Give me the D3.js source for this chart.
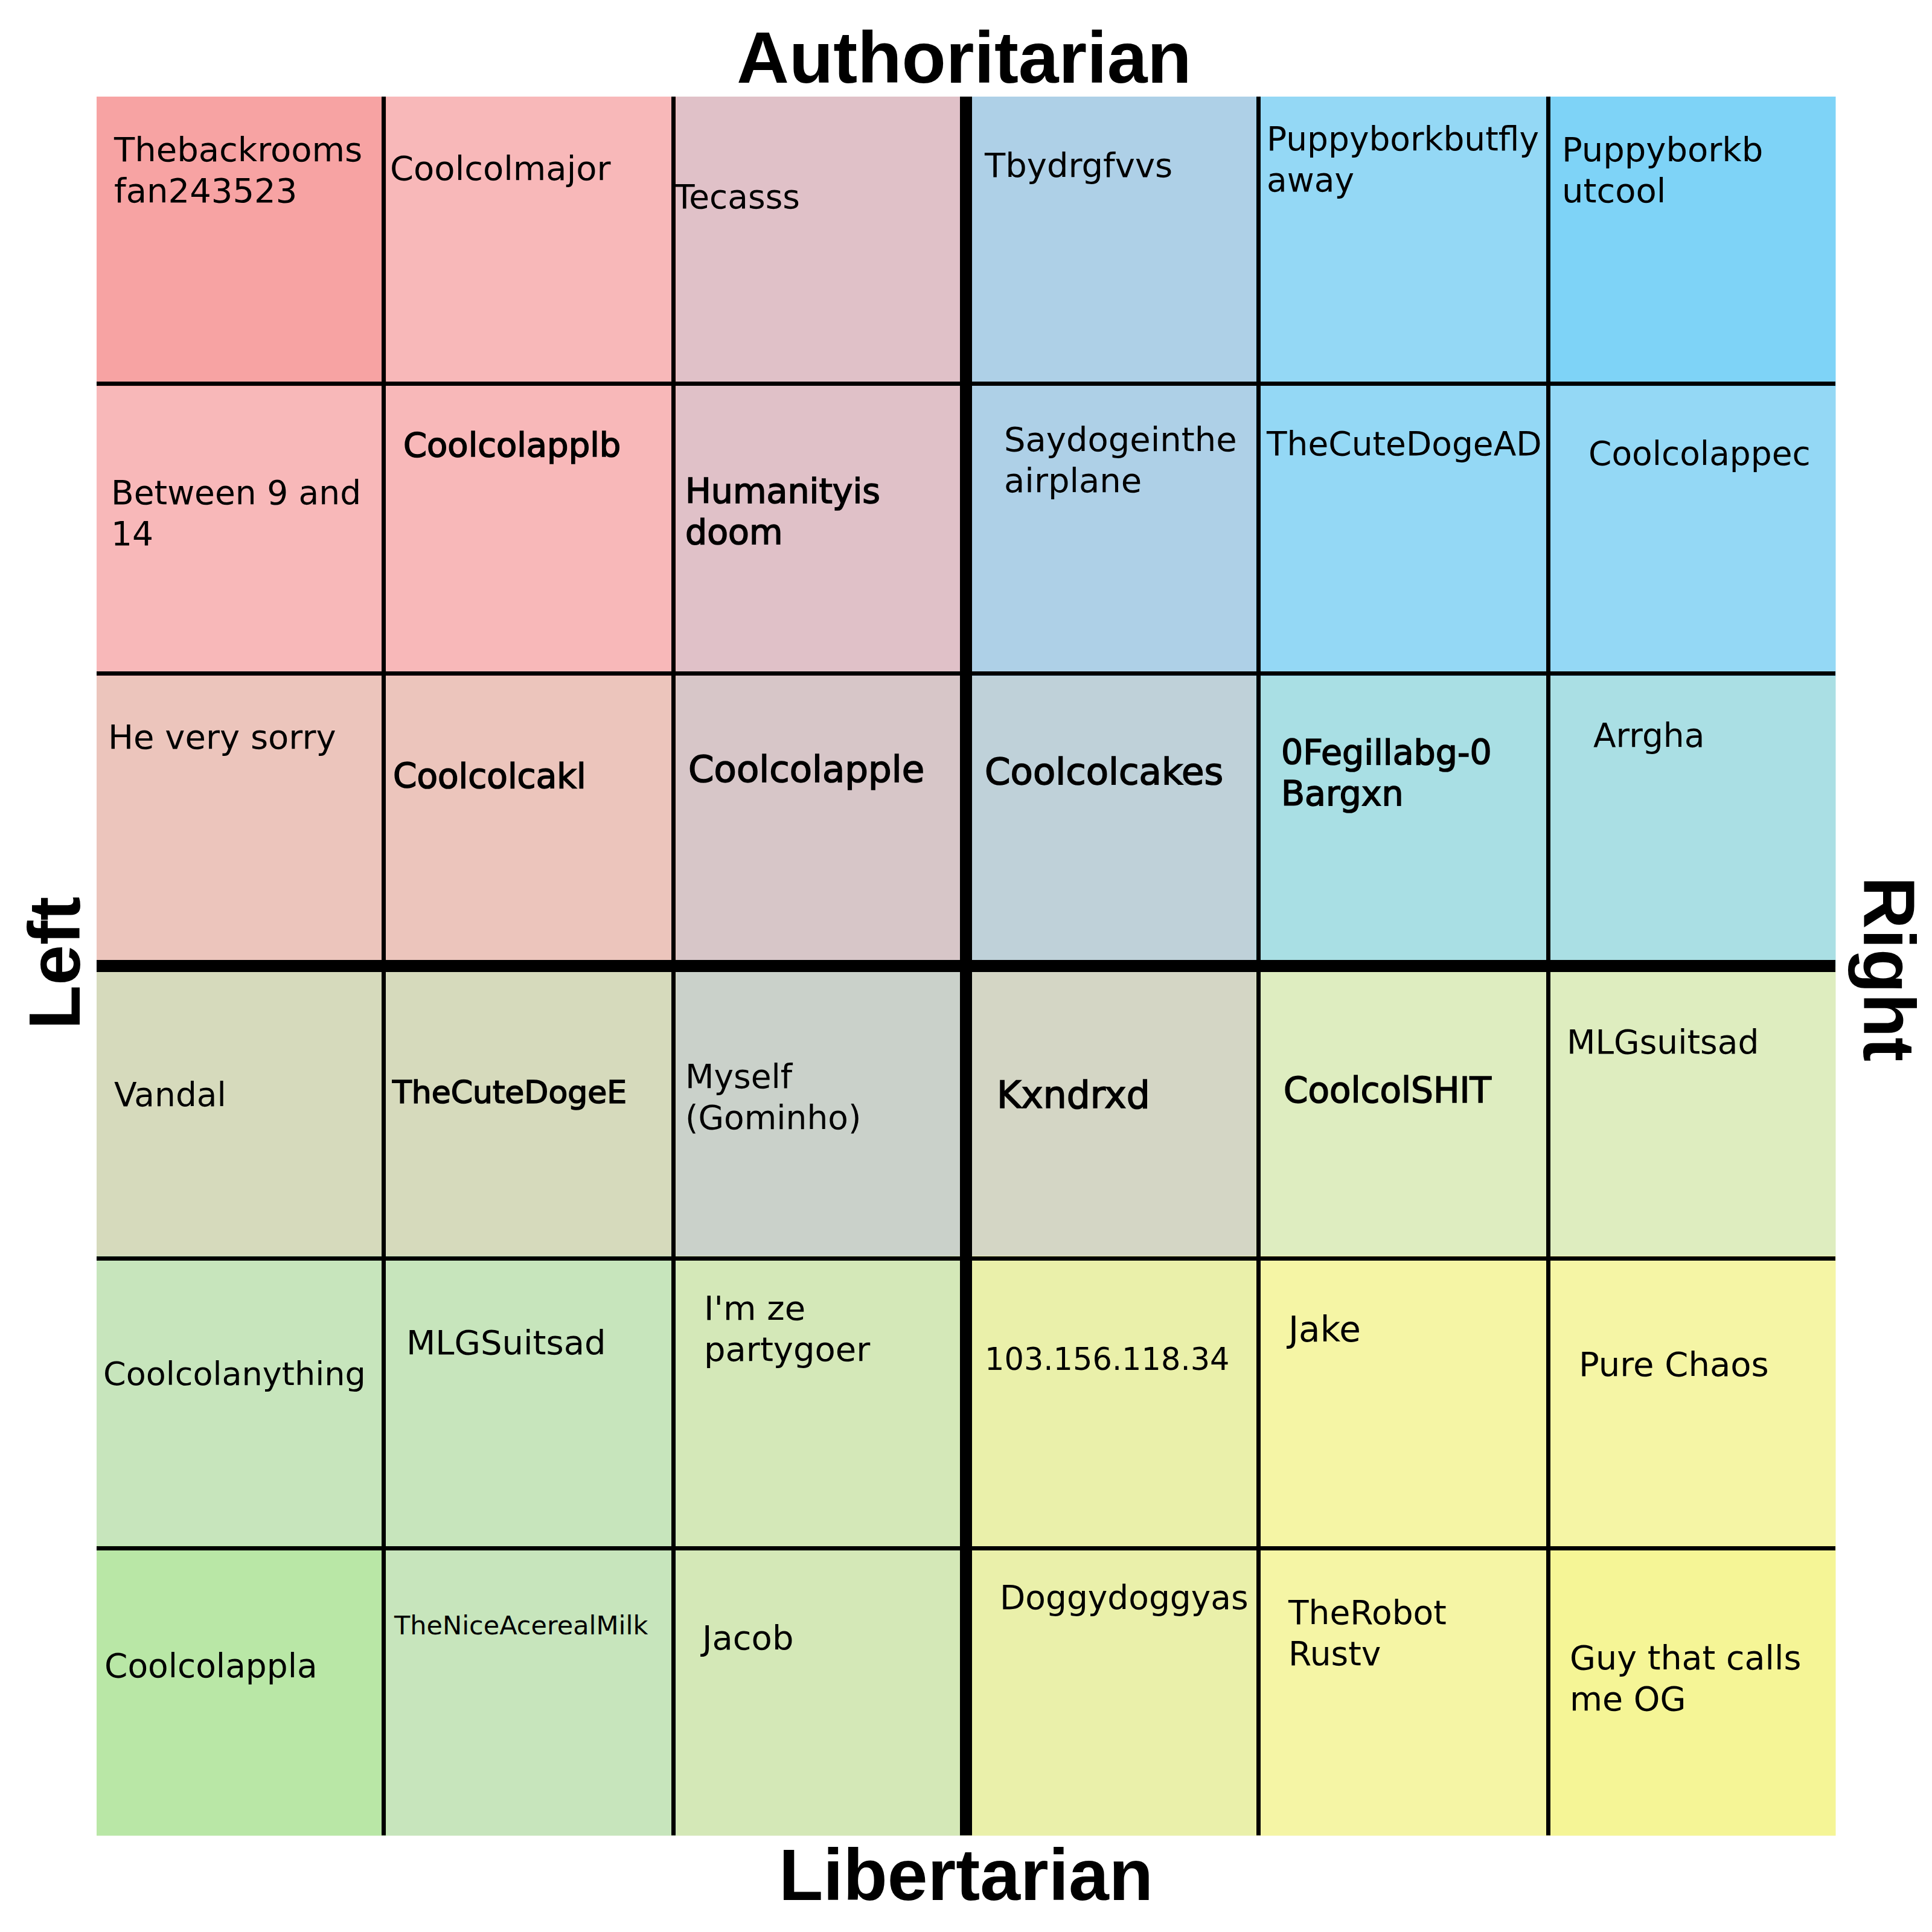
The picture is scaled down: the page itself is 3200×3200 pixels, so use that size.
<!DOCTYPE html>
<html>
<head>
<meta charset="utf-8">
<script src="https://cdn.jsdelivr.net/npm/d3@7"></script>
<style>
  html, body { margin: 0; padding: 0; background: #ffffff; }
  svg { display: block; }
</style>
</head>
<body>
<div id="chart"></div>
<script>
// ---------- data ----------
const columns = ["L3", "L2", "L1", "R1", "R2", "R3"];
const rows = ["A3", "A2", "A1", "B1", "B2", "B3"];

const row1Names = ["Thebackrooms\nfan243523", "Coolcolmajor", "Tecasss", "Tbydrgfvvs", "Puppyborkbutfly\naway", "Puppyborkb\nutcool"];
const row2Names = ["Between 9 and\n14", "Coolcolapplb", "Humanityis\ndoom", "Saydogeinthe\nairplane", "TheCuteDogeAD", "Coolcolappec"];
const row3Names = ["He very sorry", "Coolcolcakl", "Coolcolapple", "Coolcolcakes", "0Fegillabg-0\nBargxn", "Arrgha"];
const row4Names = ["Vandal", "TheCuteDogeE", "Myself\n(Gominho)", "Kxndrxd", "CoolcolSHIT", "MLGsuitsad"];
const row5Names = ["Coolcolanything", "MLGSuitsad", "I'm ze\npartygoer", "103.156.118.34", "Jake", "Pure Chaos"];
const row6Names = ["Coolcolappla", "TheNiceAcerealMilk", "Jacob", "Doggydoggyas", "TheRobot\nRustv", "Guy that calls\nme OG"];
const cellNames = [row1Names, row2Names, row3Names, row4Names, row5Names, row6Names];

const axisTop = "Authoritarian";
const axisBottom = "Libertarian";
const axisLeft = "Left";
const axisRight = "Right";

// ---------- styles ----------
const cellColors = [
  ["#F7A3A3", "#F8B8B9", "#E0C1C8", "#AED0E7", "#94D8F5", "#7ED3F7"],
  ["#F8B8B9", "#F8B8B9", "#E0C1C8", "#AED0E7", "#94D8F5", "#94D8F5"],
  ["#ECC5BC", "#ECC5BC", "#D7C6C8", "#BFD1D9", "#A9DFE4", "#AADFE4"],
  ["#D6DABC", "#D6DABC", "#CAD1CA", "#D4D6C5", "#DEEDC0", "#DEEDBF"],
  ["#C7E5BC", "#C7E5BC", "#D4E8B8", "#EAF0AA", "#F5F5A5", "#F5F5A5"],
  ["#B9E7A6", "#C7E5BC", "#D4E8B7", "#EAF0AA", "#F5F5A5", "#F5F596"]
];
// per-label layout: [dx, dy (first baseline), font size, bold]
const labelLayout = [
  [[29,107,56,0],[6,138,56,0],[-3,185,55,0],[31,133,56,0],[18,89,55,0],[27,107,56,0]],
  [[24,195,55,0],[28,116,56,1],[15,193,57,1],[63,107,56,0],[18,114,55,0],[71,130,55,0]],
  [[19,120,56,0],[11,185,56.5,1],[20,175,61,1],[31,179,61,1],[42,146,57,1],[79,117,55,0]],
  [[29,232,55,0],[10,227,52,1],[15,202,55,0],[51,235,61.5,1],[46,226,58,1],[35,145,55,0]],
  [[11,214,54,0],[33,163,56,0],[46,106,56,0],[31,189,51,0],[54,142,58,0],[55,199,56,0]],
  [[13,218,55,0],[13,147,43,0],[43,172,56,0],[56,105,55,0],[54,130,55,0],[40,205,55.5,0]]
];

const W = 3200, H = 3200;
const gridX0 = 160, gridX1 = 3040;

const svg = d3.select("#chart").append("svg")
  .attr("width", W).attr("height", H)
  .attr("viewBox", `0 0 ${W} ${H}`);

svg.append("rect").attr("width", W).attr("height", H).attr("fill", "#ffffff");

const x = d3.scaleBand().domain(columns).range([gridX0, gridX1]).padding(0);
const y = d3.scaleBand().domain(rows).range([gridX0, gridX1]).padding(0);

const cells = [];
rows.forEach((r, ri) => columns.forEach((c, ci) => {
  cells.push({ r, c, ri, ci, name: cellNames[ri][ci], color: cellColors[ri][ci], lay: labelLayout[ri][ci] });
}));

// cell fills
svg.append("g").selectAll("rect").data(cells).join("rect")
  .attr("x", d => x(d.c)).attr("y", d => y(d.r))
  .attr("width", x.bandwidth() + 0.5).attr("height", y.bandwidth() + 0.5)
  .attr("fill", d => d.color);

// cell labels
const lineH = 68;
const tg = svg.append("g").attr("font-family", "'DejaVu Sans', Verdana, sans-serif").attr("fill", "#000");
tg.selectAll("text").data(cells).join("text")
  .attr("x", d => x(d.c) + d.lay[0])
  .attr("y", d => y(d.r) + d.lay[1])
  .attr("font-size", d => d.lay[2])
  .attr("stroke", d => d.lay[3] ? "#000" : "none")
  .attr("stroke-width", d => d.lay[3] ? 1.6 : 0)
  .each(function(d) {
    const t = d3.select(this);
    d.name.split("\n").forEach((ln, i) => {
      t.append("tspan").attr("x", x(d.c) + d.lay[0]).attr("dy", i === 0 ? 0 : lineH).text(ln);
    });
  });

// grid lines
const boundaries = d3.range(1, columns.length);
const lg = svg.append("g").attr("stroke", "#000");
const thinOff = i => (i < 3 ? -4.5 : i > 3 ? 4.5 : 0);
const bx = i => x(columns[i]) + thinOff(i);
const by = i => y(rows[i]) + thinOff(i);
lg.selectAll("line.v").data(boundaries).join("line").attr("class", "v")
  .attr("x1", bx).attr("x2", bx)
  .attr("y1", gridX0).attr("y2", gridX1)
  .attr("stroke-width", i => i === 3 ? 20 : 7);
lg.selectAll("line.h").data(boundaries).join("line").attr("class", "h")
  .attr("y1", by).attr("y2", by)
  .attr("x1", gridX0).attr("x2", gridX1)
  .attr("stroke-width", i => i === 3 ? 20 : 7);
// redraw thick lines on top
lg.append("line").attr("x1", x(columns[3])).attr("x2", x(columns[3])).attr("y1", gridX0).attr("y2", gridX1).attr("stroke-width", 20);
lg.append("line").attr("y1", y(rows[3])).attr("y2", y(rows[3])).attr("x1", gridX0).attr("x2", gridX1).attr("stroke-width", 20);

// axis titles
const ag = svg.append("g").attr("font-family", "'Liberation Sans', Arial, Helvetica, sans-serif")
  .attr("font-weight", "bold").attr("font-size", 120).attr("fill", "#000").attr("text-anchor", "middle");
ag.append("text").attr("x", 1597).attr("y", 137).text(axisTop);
ag.append("text").attr("x", 1600).attr("y", 3147).text(axisBottom);
ag.append("text").attr("transform", "translate(132,1595) rotate(-90)").text(axisLeft);
ag.append("text").attr("transform", "translate(3087,1605) rotate(90)").text(axisRight);
</script>
</body>
</html>
